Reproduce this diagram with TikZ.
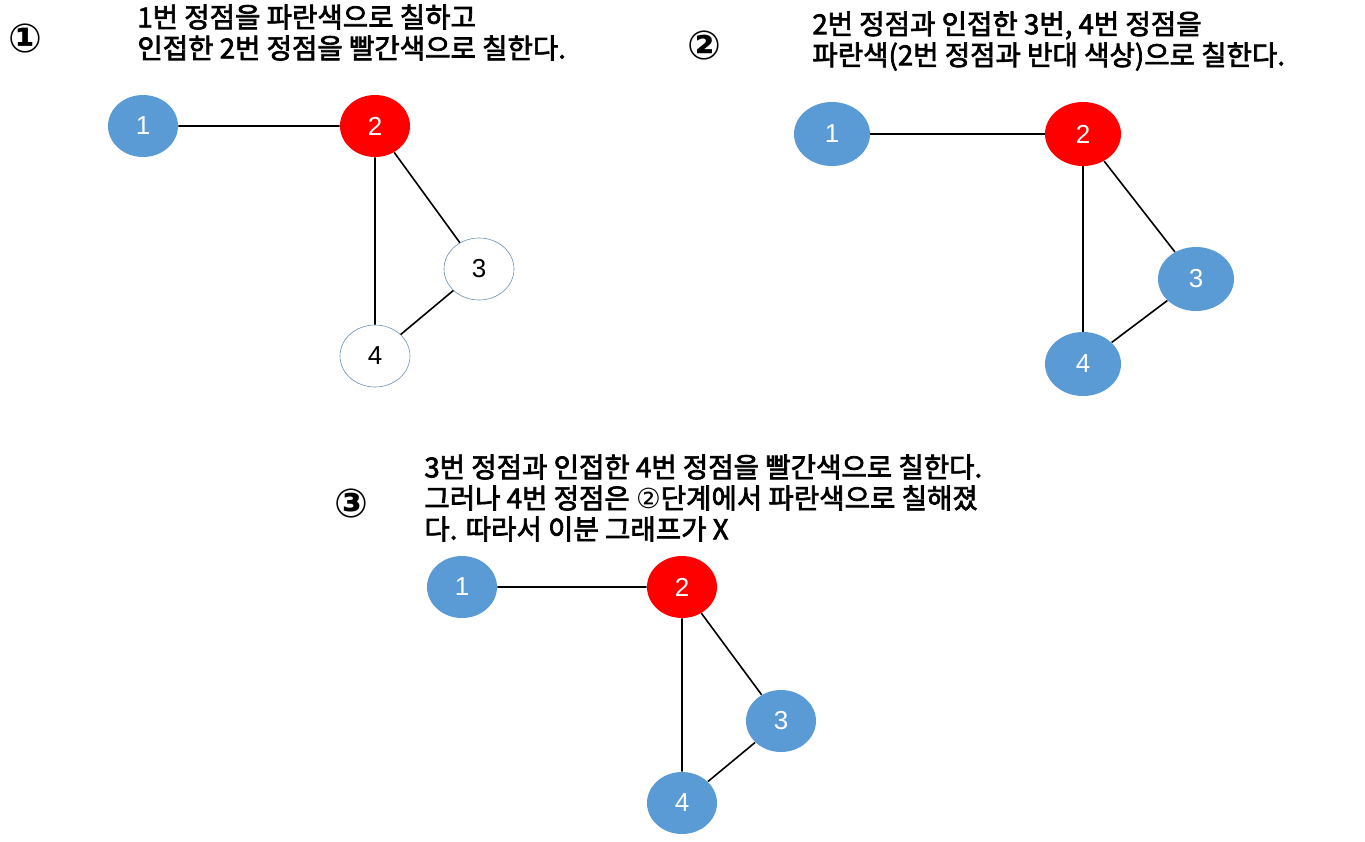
\documentclass[tikz,border=0pt]{standalone}
\usepackage{fontspec}
\setmainfont{Liberation Sans}
\newfontfamily\cjk{Noto Sans CJK KR}[AutoFakeBold=2.5]
\newfontfamily\djv{DejaVu Sans}
\usetikzlibrary{shapes.geometric}
\definecolor{nblue}{HTML}{5B9BD5}
\definecolor{nred}{HTML}{FF0000}
\tikzset{
 v/.style={ellipse,minimum width=35pt,minimum height=31pt,inner sep=0pt,font=\fontsize{13}{13}\selectfont},
 vb/.style={v,fill=nblue,text=white},
 vr/.style={v,fill=nred,text=white},
 vw/.style={v,fill=white,draw=nblue!60!gray,line width=0.3pt,text=black},
 ed/.style={line width=0.8pt},
 ttl/.style={anchor=north west,align=left,font=\cjk\bfseries\fontsize{13.8}{15.5}\selectfont,inner sep=0pt},
 num/.style={font=\djv\bfseries\fontsize{20}{20}\selectfont}
}
\begin{document}
\begin{tikzpicture}[x=0.5pt,y=-0.5pt]
\useasboundingbox (0,0) rectangle (1365,841);
% panel 1
\node[num] (n1) at (25,38) {①};
\node[ttl] (t1) at (137,4) {1번 정점을 파란색으로 칠하고\\인접한 2번 정점을 빨간색으로 칠한다.};
\node[vb] (a1) at (143,126) {1};
\node[vr] (a2) at (375,126) {2};
\node[vw] (a3) at (479,269) {3};
\node[vw] (a4) at (375,356) {4};
\draw[ed] (a1)--(a2) (a2)--(a3) (a2)--(a4) (a3)--(a4);
% panel 2
\node[num] (n2) at (704,45) {②};
\node[ttl] (t2) at (812,11) {2번 정점과 인접한 3번, 4번 정점을\\파란색(2번 정점과 반대 색상)으로 칠한다.};
\node[vb,minimum width=38pt,minimum height=32pt] (b1) at (832,134) {1};
\node[vr,minimum width=38pt,minimum height=32pt] (b2) at (1083,134) {2};
\node[vb,minimum width=38pt,minimum height=32pt] (b3) at (1196,279) {3};
\node[vb,minimum width=38pt,minimum height=32pt] (b4) at (1083,364) {4};
\draw[line width=1.4pt] (b1)--(b2) (b2)--(b4);
\draw[ed] (b2)--(b3) (b3)--(b4);
% panel 3
\node[num] (n3) at (351,503) {③};
\node[ttl] (t3) at (424,454) {3번 정점과 인접한 4번 정점을 빨간색으로 칠한다.\\그러나 4번 정점은 {\djv\mdseries ②}단계에서 파란색으로 칠해졌\\다. 따라서 이분 그래프가 X};
\node[vb] (c1) at (462,587) {1};
\node[vr] (c2) at (682,587) {2};
\node[vb] (c3) at (781,721) {3};
\node[vb] (c4) at (682,803) {4};
\draw[ed] (c1)--(c2) (c2)--(c3) (c2)--(c4) (c3)--(c4);
\end{tikzpicture}
\end{document}
